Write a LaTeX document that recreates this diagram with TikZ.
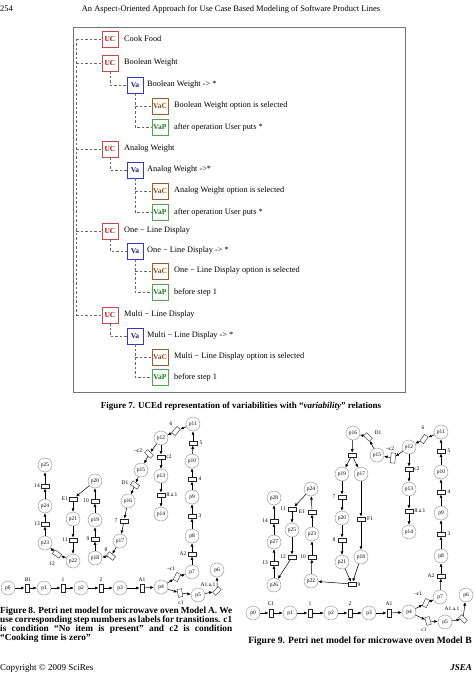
\documentclass[tikz,border=0pt]{standalone}
\usepackage{fontspec}
\setmainfont{Liberation Serif}
\usetikzlibrary{arrows.meta}
\definecolor{ucdraw}{HTML}{C8474B}
\definecolor{uctext}{HTML}{A31515}
\definecolor{vadraw}{HTML}{3A3AB0}
\definecolor{vatext}{HTML}{1E1E8E}
\definecolor{vacdraw}{HTML}{9A5B2E}
\definecolor{vactext}{HTML}{9A4A10}
\definecolor{vapdraw}{HTML}{4FA64F}
\definecolor{vaptext}{HTML}{1F7A1F}
\begin{document}
\begin{tikzpicture}[x=1pt,y=-1pt,
  pl/.style={circle,draw=black!45,fill=white,minimum size=14pt,inner sep=0pt,font=\fontsize{5.5}{6}\selectfont},
  th/.style={rectangle,draw=black!85,fill=white,minimum width=8pt,minimum height=4.5pt,inner sep=0pt},
  tv/.style={rectangle,draw=black!85,fill=white,minimum width=4.5pt,minimum height=8pt,inner sep=0pt},
  lb/.style={font=\fontsize{5.5}{6}\selectfont,inner sep=0.5pt},
  arc/.style={-{Latex[length=3.5pt,width=3pt]},line width=0.5pt},
  dsh/.style={dash pattern=on 2.5pt off 2pt,draw=black!60,line width=0.5pt},
  bx/.style={rectangle,minimum size=16pt,inner sep=0pt,fill=white,line width=0.6pt,font=\fontsize{7.5}{8}\selectfont\bfseries},
  uc/.style={bx,draw=ucdraw,text=uctext},
  va/.style={bx,draw=vadraw,text=vatext},
  vac/.style={bx,draw=vacdraw,text=vactext},
  vap/.style={bx,draw=vapdraw,text=vaptext},
  txt/.style={anchor=west,inner sep=0pt,font=\fontsize{8.3}{9}\selectfont},
]
\useasboundingbox (0,0) rectangle (474,677);

% ---------- header / footer ----------
\node[anchor=west,inner sep=0pt,font=\fontsize{8.5}{9}\selectfont] (pgno) at (0,9) {254};
\node[inner sep=0pt,font=\fontsize{8.45}{9}\selectfont] (title) at (231,9) {An Aspect-Oriented Approach for Use Case Based Modeling of Software Product Lines};
\node[anchor=west,inner sep=0pt,font=\fontsize{9}{10}\selectfont] (copy) at (0,668) {Copyright © 2009 SciRes};
\node[anchor=east,inner sep=0pt,font=\fontsize{9}{10}\selectfont\bfseries\itshape] (jsea) at (472,668) {JSEA};

% ---------- Figure 7 ----------
\draw[draw=black!55,line width=0.6pt] (73,27) rectangle (405,392);
\coordinate (ltop) at (76,39);
\coordinate (lbot) at (76,315);

\node[uc] (ucA) at (110,39) {UC};
\node[uc] (ucB) at (110,63) {UC};
\node[va] (vaB) at (135,85) {Va};
\node[vac] (vacB) at (160,106) {VaC};
\node[vap] (vapB) at (160,127) {VaP};
\node[uc] (ucC) at (110,149) {UC};
\node[va] (vaC) at (135,170) {Va};
\node[vac] (vacC) at (160,191) {VaC};
\node[vap] (vapC) at (160,212) {VaP};
\node[uc] (ucD) at (110,231) {UC};
\node[va] (vaD) at (135,251) {Va};
\node[vac] (vacD) at (160,271) {VaC};
\node[vap] (vapD) at (160,292) {VaP};
\node[uc] (ucE) at (110,315) {UC};
\node[va] (vaE) at (135,336) {Va};
\node[vac] (vacE) at (160,357) {VaC};
\node[vap] (vapE) at (160,377) {VaP};

\node[txt] (tA) at (124,39) {Cook Food};
\node[txt] (tB) at (124,63) {Boolean Weight};
\node[txt] (tvaB) at (147,85) {Boolean Weight -> *};
\node[txt] (tvacB) at (174,106) {Boolean Weight option is selected};
\node[txt] (tvapB) at (174,127) {after operation User puts *};
\node[txt] (tC) at (124,149) {Analog Weight};
\node[txt] (tvaC) at (147,170) {Analog Weight ->*};
\node[txt] (tvacC) at (174,191) {Analog Weight option is selected};
\node[txt] (tvapC) at (174,212) {after operation User puts *};
\node[txt] (tD) at (124,231) {One − Line Display};
\node[txt] (tvaD) at (147,251) {One − Line Display -> *};
\node[txt] (tvacD) at (174,271) {One − Line Display option is selected};
\node[txt] (tvapD) at (174,292) {before step 1};
\node[txt] (tE) at (124,315) {Multi − Line Display};
\node[txt] (tvaE) at (147,336) {Multi − Line Display -> *};
\node[txt] (tvacE) at (174,357) {Multi − Line Display option is selected};
\node[txt] (tvapE) at (174,377) {before step 1};

\draw[dsh] (ltop) -- (lbot);
\foreach \u in {ucA,ucB,ucC,ucD,ucE} \draw[dsh] (ltop |- \u.west) -- (\u.west);
\foreach \u/\v in {ucB/vaB,ucC/vaC,ucD/vaD,ucE/vaE} \draw[dsh] (\u.south) |- (\v.west);
\foreach \v/\c/\p in {vaB/vacB/vapB,vaC/vacC/vapC,vaD/vacD/vapD,vaE/vacE/vapE}
  {\draw[dsh] (\v.south) |- (\p.west); \draw[dsh] (\v.south |- \c.west) -- (\c.west);}

\node[inner sep=0pt,font=\fontsize{9}{10}\selectfont\bfseries] (cap7) at (241,406) {Figure 7. UCEd representation of variabilities with “\textit{variability}” relations};

% ---------- Figure 8 ----------
\node[pl] (ap0) at (8,588) {p0};
\node[pl] (ap1) at (44,588) {p1};
\node[pl] (ap2) at (81,588) {p2};
\node[pl] (ap3) at (120,588) {p3};
\node[pl] (ap4) at (161,587) {p4};
\node[pl] (ap5) at (198,595) {p5};
\node[pl] (ap6) at (217,570) {p6};
\node[pl] (ap7) at (192,572) {p7};
\node[pl] (ap8) at (192,536) {p8};
\node[pl] (ap9) at (192,497) {p9};
\node[pl] (ap10) at (192,461) {p10};
\node[pl] (ap11) at (193,424) {p11};
\node[pl] (ap12) at (161,438) {p12};
\node[pl] (ap13) at (161,476) {p13};
\node[pl] (ap14) at (161,514) {p14};
\node[pl] (ap15) at (141,470) {p15};
\node[pl] (ap16) at (128,501) {p16};
\node[pl] (ap17) at (120,541) {p17};
\node[pl] (ap18) at (95,558) {p18};
\node[pl] (ap19) at (95,520) {p19};
\node[pl] (ap20) at (95,481) {p20};
\node[pl] (ap21) at (73,519) {p21};
\node[pl] (ap22) at (73,561) {p22};
\node[pl] (ap23) at (45,543) {p23};
\node[pl] (ap24) at (45,506) {p24};
\node[pl] (ap25) at (45,465) {p25};

\node[tv] (atB1) at (27,588) {};
\node[tv] (at1) at (63,588) {};
\node[tv] (at2) at (101,588) {};
\node[tv] (atA1) at (142,588) {};
\node[tv,rotate=-25] (atnc1) at (177,577) {};
\node[tv,rotate=12] (atc1) at (180,593) {};
\node[tv,rotate=-45] (atA1a1) at (217,591) {};
\node[th] (atA2) at (192,554) {};
\node[th] (at3) at (192,516) {};
\node[th] (at4) at (192,479) {};
\node[th] (at5) at (193,443) {};
\node[tv,rotate=-40] (at6) at (176,431) {};
\node[tv,rotate=45] (atnc2) at (149,454) {};
\node[th] (atc2) at (161,457) {};
\node[th] (at8a1) at (161,495) {};
\node[tv,rotate=55] (atD1) at (135,485) {};
\node[th] (at7) at (124,521) {};
\node[tv,rotate=50] (at8) at (111,556) {};
\node[th] (at9) at (95,539) {};
\node[th] (at10) at (95,501) {};
\node[th] (atE1) at (73,499) {};
\node[th] (at11) at (73,540) {};
\node[tv,rotate=55] (at12) at (57,554) {};
\node[th] (at13) at (45,524) {};
\node[th] (at14) at (45,486) {};

\foreach \a/\b in {ap0/atB1,atB1/ap1,ap1/at1,at1/ap2,ap2/at2,at2/ap3,ap3/atA1,atA1/ap4,
  ap4/atnc1,atnc1/ap7,ap4/atc1,atc1/ap5,ap5/atA1a1,atA1a1/ap6,
  ap7/atA2,atA2/ap8,ap8/at3,at3/ap9,ap9/at4,at4/ap10,ap10/at5,at5/ap11,ap11/at6,at6/ap12,
  ap12/atc2,atc2/ap13,ap13/at8a1,at8a1/ap14,
  ap12/atnc2,atnc2/ap15,ap15/atD1,atD1/ap16,ap16/at7,at7/ap17,ap17/at8,at8/ap18,
  ap18/at9,at9/ap19,ap19/at10,at10/ap20,ap20/atE1,atE1/ap21,ap21/at11,at11/ap22,
  ap22/at12,at12/ap23,ap23/at13,at13/ap24,ap24/at14,at14/ap25}
  \draw[arc] (\a) -- (\b);

\node[lb] (lB1) at (28,580) {B1};
\node[lb] (la1) at (63,580) {1};
\node[lb] (la2) at (101,580) {2};
\node[lb] (laA1) at (142,580) {A1};
\node[lb] (lanc1) at (171,569) {¬c1};
\node[lb] (lac1) at (181,603) {c1};
\node[lb] (laA1a1) at (208,585) {A1.a.1};
\node[lb] (laA2) at (183,554) {A2};
\node[lb] (la3) at (200,516) {3};
\node[lb] (la4) at (200,479) {4};
\node[lb] (la5) at (201,443) {5};
\node[lb] (la6) at (171,424) {6};
\node[lb] (lac2) at (169,457) {c2};
\node[lb,anchor=west] (la8a1) at (166,495) {8.a.1};
\node[lb] (lanc2) at (138,451) {¬c2};
\node[lb] (laD1) at (125,483) {D1};
\node[lb] (la7) at (116,521) {7};
\node[lb] (la8) at (106,550) {8};
\node[lb] (la9) at (88,539) {9};
\node[lb] (la10) at (86,501) {10};
\node[lb] (laE1) at (65,499) {E1};
\node[lb] (la11) at (65,540) {11};
\node[lb] (la12) at (52,564) {12};
\node[lb] (la13) at (37,524) {13};
\node[lb] (la14) at (37,486) {14};

\node[anchor=north west,inner sep=0pt,text width=232pt,align=justify,font=\fontsize{9.3}{9}\selectfont\bfseries] (cap8) at (0,607)
 {\hyphenpenalty=10000 Figure 8. Petri net model for microwave oven Model A. We\linebreak use corresponding step numbers as labels for transitions. c1\linebreak is condition “No item is present” and c2 is condition\linebreak “Cooking time is zero”};

% ---------- Figure 9 ----------
\node[pl] (bp0) at (253,613) {p0};
\node[pl] (bp1) at (290,613) {p1};
\node[pl] (bp2) at (331,613) {p2};
\node[pl] (bp3) at (369,613) {p3};
\node[pl] (bp4) at (409,612) {p4};
\node[pl] (bp5) at (445,622) {p5};
\node[pl] (bp6) at (466,595) {p6};
\node[pl] (bp7) at (440,597) {p7};
\node[pl] (bp8) at (441,556) {p8};
\node[pl] (bp9) at (441,513) {p9};
\node[pl] (bp10) at (441,472) {p10};
\node[pl] (bp11) at (441,432) {p11};
\node[pl] (bp12) at (409,447) {p12};
\node[pl] (bp13) at (409,489) {p13};
\node[pl] (bp14) at (409,532) {p14};
\node[pl] (bp15) at (377,455) {p15};
\node[pl] (bp16) at (353,433) {p16};
\node[pl] (bp17) at (361,474) {p17};
\node[pl] (bp18) at (361,557) {p18};
\node[pl] (bp19) at (342,474) {p19};
\node[pl] (bp20) at (342,518) {p20};
\node[pl] (bp21) at (342,562) {p21};
\node[pl] (bp22) at (311,581) {p22};
\node[pl] (bp23) at (312,534) {p23};
\node[pl] (bp24) at (311,489) {p24};
\node[pl] (bp25) at (292,530) {p25};
\node[pl] (bp26) at (274,585) {p26};
\node[pl] (bp27) at (274,542) {p27};
\node[pl] (bp28) at (274,498) {p28};

\node[tv] (btC1) at (271,613) {};
\node[tv] (bt1) at (310,613) {};
\node[tv] (bt2) at (350,613) {};
\node[tv] (btA1) at (389,613) {};
\node[tv,rotate=-25] (btnc1) at (426,603) {};
\node[tv,rotate=15] (btc1) at (428,621) {};
\node[tv,rotate=45] (btA1a1) at (463,619) {};
\node[th] (btA2) at (441,576) {};
\node[th] (bt3) at (441,534) {};
\node[th] (bt4) at (441,492) {};
\node[th] (bt5) at (441,451) {};
\node[tv,rotate=-35] (bt6) at (424,439) {};
\node[tv,rotate=-5,minimum height=10pt] (btnc2) at (393,458) {};
\node[tv,rotate=45] (btD1) at (368,437) {};
\node[th] (btc2) at (409,469) {};
\node[th] (bt8a1) at (409,511) {};
\node[th] (btT) at (352,455) {};
\node[th] (bt7) at (342,497) {};
\node[th] (bt8) at (342,540) {};
\node[th] (btF1) at (361,519) {};
\node[th] (bt9) at (352,584) {};
\node[th] (bt10) at (312,557) {};
\node[th] (btE1) at (312,512) {};
\node[th] (bt11) at (292,509) {};
\node[th] (bt12) at (292,557) {};
\node[th] (bt13) at (274,563) {};
\node[th] (bt14) at (274,521) {};

\foreach \a/\b in {bp0/btC1,btC1/bp1,bp1/bt1,bt1/bp2,bp2/bt2,bt2/bp3,bp3/btA1,btA1/bp4,
  bp4/btnc1,btnc1/bp7,bp4/btc1,btc1/bp5,bp5/btA1a1,btA1a1/bp6,
  bp7/btA2,btA2/bp8,bp8/bt3,bt3/bp9,bp9/bt4,bt4/bp10,bp10/bt5,bt5/bp11,bp11/bt6,bt6/bp12,
  bp12/btc2,btc2/bp13,bp13/bt8a1,bt8a1/bp14,
  bp12/btnc2,btnc2/bp15,bp15/btD1,btD1/bp16,bp16/btT,btT/bp19,btT/bp17,
  bp19/bt7,bt7/bp20,bp20/bt8,bt8/bp21,bp21/bt9,bp17/btF1,btF1/bp18,bp18/bt9,
  bt9/bp22,bp22/bt10,bt10/bp23,bp23/btE1,btE1/bp24,bp24/bt11,bt11/bp25,bp25/bt12,bt12/bp26,
  bp26/bt13,bt13/bp27,bp27/bt14,bt14/bp28}
  \draw[arc] (\a) -- (\b);

\node[lb] (lbC1) at (271,604) {C1};
\node[lb] (lb1) at (310,604) {1};
\node[lb] (lb2) at (350,604) {2};
\node[lb] (lbA1) at (389,604) {A1};
\node[lb] (lbnc1) at (418,594) {¬c1};
\node[lb] (lbc1) at (424,630) {c1};
\node[lb] (lbA1a1) at (452,609) {A1.a.1};
\node[lb] (lbA2) at (431,576) {A2};
\node[lb] (lb3) at (449,534) {3};
\node[lb] (lb4) at (449,492) {4};
\node[lb] (lb5) at (449,451) {5};
\node[lb] (lb6) at (423,428) {6};
\node[lb] (lbnc2) at (390,449) {¬c2};
\node[lb] (lbD1) at (378,433) {D1};
\node[lb] (lbc2) at (417,469) {c2};
\node[lb,anchor=west] (lb8a1) at (414,511) {8.a.1};
\node[lb] (lb7) at (334,497) {7};
\node[lb] (lb8) at (334,540) {8};
\node[lb] (lbF1) at (370,519) {F1};
\node[lb] (lb9) at (359,585) {9};
\node[lb] (lb10) at (303,557) {10};
\node[lb] (lbE1) at (302,512) {E1};
\node[lb] (lb11) at (283,509) {11};
\node[lb] (lb12) at (283,557) {12};
\node[lb] (lb13) at (265,563) {13};
\node[lb] (lb14) at (265,521) {14};

\node[inner sep=0pt,font=\fontsize{9.6}{10}\selectfont\bfseries] (cap9) at (360,641) {Figure 9. Petri net model for microwave oven Model B};
\end{tikzpicture}
\end{document}
